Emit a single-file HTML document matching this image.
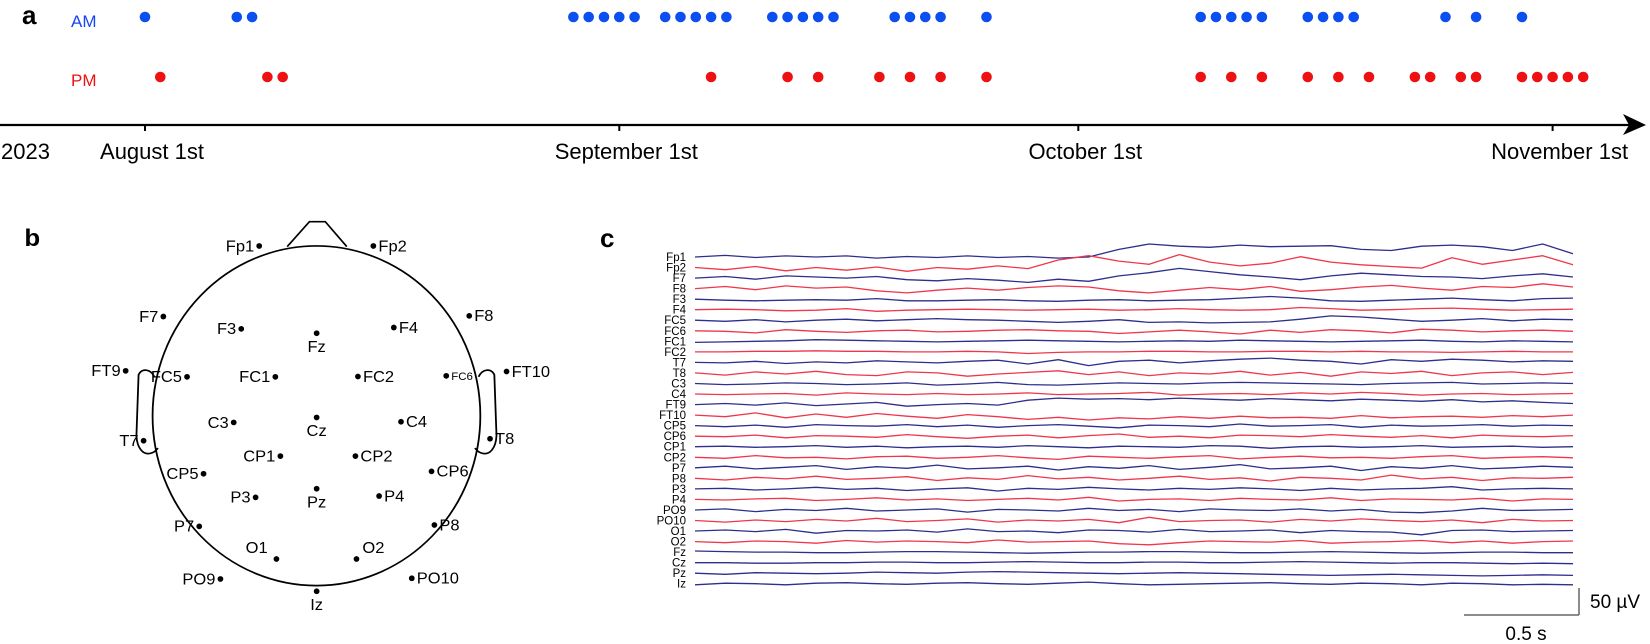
<!DOCTYPE html>
<html><head><meta charset="utf-8"><style>
html,body{margin:0;padding:0;background:#fff;}
svg{display:block;font-family:"Liberation Sans",Arial,sans-serif;}
</style></head><body>
<svg id="fig" width="1650" height="644" viewBox="0 0 1650 644" xmlns="http://www.w3.org/2000/svg">
<g id="panelA">
  <text x="22" y="24" font-size="26" font-weight="bold">a</text>
  <text x="71" y="27" font-size="17" fill="#1646f0">AM</text>
  <text x="71" y="86" font-size="17" fill="#ee1111">PM</text>
  <line x1="0" y1="125" x2="1630" y2="125" stroke="#000" stroke-width="2.2"/>
  <polygon points="1623,114 1646,125 1623,135 1629,125" fill="#000"/>
  <text x="1" y="159" font-size="22">2023</text>
  <g id="ticks"></g>
  <g id="dots"></g>
</g>
<g id="panelB" transform="translate(0,201) scale(0.359,0.333)">
  <text x="68" y="135" font-size="72" font-weight="bold">b</text>
  <ellipse cx="881.5" cy="645" rx="456.5" ry="510" fill="none" stroke="#000" stroke-width="5"/>
  <path d="M800,137 L862,62 L906,62 L966,137" fill="none" stroke="#000" stroke-width="5"/>
  <path d="M430,528 C420,505 395,500 386,522 L380,705 C382,745 400,762 418,758 C430,756 436,748 440,742" fill="none" stroke="#000" stroke-width="5"/>
  <path d="M1333,528 C1343,505 1368,500 1377,522 L1383,705 C1381,745 1363,762 1345,758 C1333,756 1327,748 1323,742" fill="none" stroke="#000" stroke-width="5"/>
  <g id="electrodes" font-size="46"></g>
</g>
<g id="panelC">
  <text x="600" y="247" font-size="26" font-weight="bold">c</text>
  <g id="traces"></g>
  <line x1="1579" y1="588" x2="1579" y2="615" stroke="#666" stroke-width="1.5"/>
  <line x1="1464" y1="615" x2="1579" y2="615" stroke="#666" stroke-width="1.5"/>
  <text x="1590" y="608" font-size="19">50 µV</text>
  <text x="1526" y="640" font-size="19" text-anchor="middle">0.5 s</text>
</g>
</svg>
<script>
// ---- Panel a data (days since August 1st 2023) ----
const tickLabels = ["August 1st","September 1st","October 1st","November 1st"];
const tickDays = [0,31,61,92];
const amDays = [0,6,7,28,29,30,31,32,34,35,36,37,38,41,42,43,44,45,49,50,51,52,55,69,70,71,72,73,76,77,78,79,85,87,90];
const pmDays = [1,8,9,37,42,44,48,50,52,55,69,71,73,76,78,80,83,84,86,87,90,91,92,93,94];

// ---- Panel b data ----
const elecNames = ["Fp1","Fp2","F7","F8","F3","F4","Fz","FT9","FC5","FC1","FC2","FC6","FT10","C3","Cz","C4","T7","T8","CP1","CP2","CP5","CP6","P3","Pz","P4","P7","P8","O1","O2","PO9","PO10","Iz"];
const elecX = [722,1040,455,1307,672,1097,882,350,521,767,997,1243,1411,651,882,1117,400,1365,781,990,567,1202,712,882,1056,555,1210,770,993,614,1147,882];
const elecY = [135,135,347,345,384,380,397,510,528,528,527,525,512,665,650,663,720,714,766,766,819,812,890,864,886,977,973,1075,1075,1135,1133,1172];
const elecSide = ["L","R","L","R","L","R","B","L","L","L","R","R","R","L","B","R","L","R","L","R","L","R","L","B","R","L","R","O","O","L","R","B"];

// ---- Panel c data (µV, 30 samples per channel) ----
const chNames = ["Fp1","Fp2","F7","F8","F3","F4","FC5","FC6","FC1","FC2","T7","T8","C3","C4","FT9","FT10","CP5","CP6","CP1","CP2","P7","P8","P3","P4","PO9","PO10","O1","O2","Fz","Cz","Pz","Iz"];
const chColors = ["#2e2e8c","#f0364c","#2e2e8c","#f0364c","#2e2e8c","#f0364c","#2e2e8c","#f0364c","#2e2e8c","#f0364c","#2e2e8c","#f0364c","#2e2e8c","#f0364c","#2e2e8c","#f0364c","#2e2e8c","#f0364c","#2e2e8c","#f0364c","#2e2e8c","#f0364c","#2e2e8c","#f0364c","#2e2e8c","#f0364c","#2e2e8c","#f0364c","#2e2e8c","#2e2e8c","#2e2e8c","#2e2e8c"];
const chValues = [
 [0,3,-1,2,0,2,-2,1,-1,2,-1,1,-2,0,14,24,20,18,22,19,20,21,14,12,20,22,19,12,24,6],
 [0,-4,2,-6,0,-5,1,-7,0,-3,3,-2,14,22,12,6,24,10,3,8,20,10,5,2,-1,18,6,14,22,5],
 [0,3,-2,4,2,0,3,-3,-5,-1,-4,-8,-2,-6,4,10,18,12,6,2,-3,4,9,6,3,2,-1,4,8,2],
 [0,4,-2,5,1,3,-4,-8,-3,1,-3,2,5,3,-4,-8,-3,2,-2,4,-5,-2,3,6,1,-3,4,2,9,3],
 [0,-2,-3,-2,-1,-2,1,-3,-3,-2,-1,-3,-4,-2,-1,-3,-2,-1,2,5,2,-3,-4,-2,0,2,-1,-3,1,2],
 [0,1,0,-2,-1,2,-3,-1,0,1,0,-1,0,1,-1,0,2,0,-1,0,4,2,-1,0,2,3,1,-1,0,1],
 [0,-2,1,-3,0,2,-1,1,3,1,0,-2,-4,-2,1,-4,-3,-5,-4,-3,2,8,6,2,-2,0,3,-1,2,1],
 [0,-1,-4,2,-1,-3,0,1,-2,-1,1,2,0,-1,-5,-2,1,-2,-6,1,-3,2,0,-4,3,1,-2,0,1,-1],
 [-2,-1,0,1,3,2,1,0,-1,0,1,2,1,0,-1,0,1,0,2,1,0,-1,0,1,2,0,-1,1,0,-1],
 [0,0,1,1,2,1,1,0,0,1,0,-3,-1,0,0,1,1,0,0,1,1,0,1,0,0,-1,0,1,0,0],
 [0,-1,2,-2,1,-1,3,1,-1,2,4,-3,5,-6,2,4,-1,3,6,8,4,2,-3,5,2,6,4,1,3,2],
 [0,-4,2,-2,3,-3,-5,2,0,-6,-2,1,4,-3,2,-5,0,-2,3,-4,1,-6,2,-1,3,-5,0,2,-3,1],
 [0,-2,-1,1,0,-2,-1,1,-3,-1,2,-2,-3,-1,1,0,-1,1,2,1,0,-1,-2,0,1,2,-1,0,1,0],
 [0,-1,0,1,-2,2,0,-1,1,-1,0,2,-1,0,1,3,-2,0,1,-1,2,0,3,1,-2,0,1,-1,0,1],
 [0,2,-1,3,-2,1,4,-3,0,2,-1,8,12,10,11,9,12,10,8,11,9,7,10,8,6,9,5,7,4,2],
 [0,-3,4,-5,2,-4,3,-2,-6,1,-3,-8,-4,-9,-5,-7,-3,-6,-2,-5,-4,-6,-1,-5,-3,-2,-4,-1,-3,0],
 [0,-2,1,-3,2,0,-1,2,-2,1,-3,0,2,-1,-4,1,0,-2,3,-1,0,2,-3,1,-1,0,2,-1,1,0],
 [0,-1,2,-3,1,0,-2,3,-1,-4,0,2,-3,1,4,-2,0,-3,2,1,-1,3,0,-2,1,-3,2,0,-1,1],
 [0,1,-1,0,2,-1,1,-2,0,1,-1,2,0,-2,1,0,-1,2,1,-3,0,1,-1,0,2,-1,0,1,-1,0],
 [0,-2,3,-1,0,-3,1,2,-2,0,3,-1,-4,2,0,-2,1,3,-3,0,2,-1,0,-2,1,3,-2,0,1,-1],
 [0,3,-2,1,4,-3,2,-1,5,-2,0,3,-4,2,-1,4,-3,1,6,-2,0,3,-5,2,-1,4,-2,0,3,1],
 [0,-3,2,-1,4,-2,0,3,-4,1,-2,5,-1,2,-3,0,4,-2,1,-5,2,0,-3,6,-1,2,-4,1,0,2],
 [0,1,-2,0,3,-1,1,-3,0,2,-4,1,-1,3,0,-2,1,-1,2,0,-3,1,-2,0,1,4,-2,0,1,0],
 [0,-1,1,2,-2,0,3,-1,1,-2,0,2,-1,4,-3,0,1,-2,2,0,-1,3,-2,1,0,-1,2,-3,1,0],
 [0,2,-3,1,-1,3,-2,0,2,-4,1,0,-2,3,-1,1,-3,2,0,-1,2,-2,1,-4,-5,-2,3,-1,0,1],
 [0,-3,1,-2,2,-1,4,-2,0,3,-3,1,-1,2,-4,6,-2,0,1,-3,2,-1,3,0,-2,1,-4,2,-1,0],
 [0,2,-1,3,-4,1,0,2,-2,4,-1,0,-3,2,1,-2,3,-1,0,2,-3,1,-1,-2,-7,1,2,-1,0,1],
 [0,-2,1,0,-3,2,-1,1,0,-2,3,-1,0,1,-4,-6,-2,1,0,-1,2,-3,-1,0,2,-2,1,-3,0,1],
 [2,1,0,0,-1,-1,0,1,1,0,-1,-2,-1,0,0,1,1,0,-1,-1,0,1,0,-1,-2,-1,0,0,-1,-1],
 [0,0,-1,-1,0,0,1,1,0,0,1,2,1,0,0,1,1,0,0,1,2,1,0,-1,0,0,-1,-2,-1,-2],
 [0,-2,1,0,-1,0,2,1,0,2,3,2,1,0,-1,0,1,0,-1,-2,-3,-4,-3,-2,-3,-4,-5,-4,-3,-4],
 [-2,1,0,-2,1,2,0,-1,1,2,0,-1,1,3,0,-2,-1,0,1,2,0,-1,1,0,-2,1,0,-2,-1,-2]
];

const NS = "http://www.w3.org/2000/svg";
function mk(tag, attrs, parent){ const e=document.createElementNS(NS,tag); for(const k in attrs) e.setAttribute(k,attrs[k]); parent.appendChild(e); return e; }

// ---- Panel a ----
const xDay = d => 145 + d*15.3;
const tg = document.getElementById("ticks");
tickDays.forEach((d,i)=>{
  const t = mk("line",{x1:xDay(d),y1:125,x2:xDay(d),y2:131,stroke:"#000","stroke-width":2},tg);
  
  
  const l = mk("text",{x:xDay(d)+7,y:159,"font-size":22,"text-anchor":"middle"},tg);
  l.textContent = tickLabels[i];
  
  
});
const dg = document.getElementById("dots");
amDays.forEach(d=>{
  const c = mk("circle",{cx:xDay(d),cy:17,r:5.3,fill:"#0b4ff0"},dg);
  
  
});
pmDays.forEach(d=>{
  const c = mk("circle",{cx:xDay(d),cy:77,r:5.3,fill:"#ee1111"},dg);
  
  
});

// ---- Panel b ----
const eg = document.getElementById("electrodes");
elecNames.forEach((n,i)=>{
  const x=elecX[i], y=elecY[i];
  const c = mk("ellipse",{cx:x,cy:y,rx:8,ry:8.6,fill:"#000"},eg);
  
  
  let a;
  const s = elecSide[i];
  if(s==="L") a={x:x-14,y:y+16,"text-anchor":"end"};
  else if(s==="R") a={x:x+14,y:y+16,"text-anchor":"start"};
  else if(s==="B") a={x:x,y:y+56,"text-anchor":"middle"};
  else a={x:(n==="O1"?x-55:x+47),y:y-18,"text-anchor":"middle"};
  if(n==="FC6"){ a["font-size"]=32; a.y=y+12; }
  const t = mk("text",a,eg);
  t.textContent = n;
  
  
});

// ---- Panel c ----
const trg = document.getElementById("traces");
const x0=695, x1=1573, rowTop=257, rowGap=10.54, pxPerUv=0.54;
const xSample = (j,n) => x0 + j*(x1-x0)/(n-1);
const yVal = (i,v) => rowTop + i*rowGap - v*pxPerUv;
chNames.forEach((n,i)=>{
  const t = mk("text",{x:686,y:rowTop+i*rowGap+4,"font-size":11.5,"text-anchor":"end"},trg);
  t.textContent = n;
  
  
  const vals = chValues[i];
  const pts = vals.map((v,j)=>xSample(j,vals.length).toFixed(1)+","+yVal(i,v).toFixed(1)).join(" ");
  const p = mk("polyline",{points:pts,fill:"none",stroke:chColors[i],"stroke-width":1.3,"stroke-linejoin":"round"},trg);
  
  
});
</script>
</body></html>
